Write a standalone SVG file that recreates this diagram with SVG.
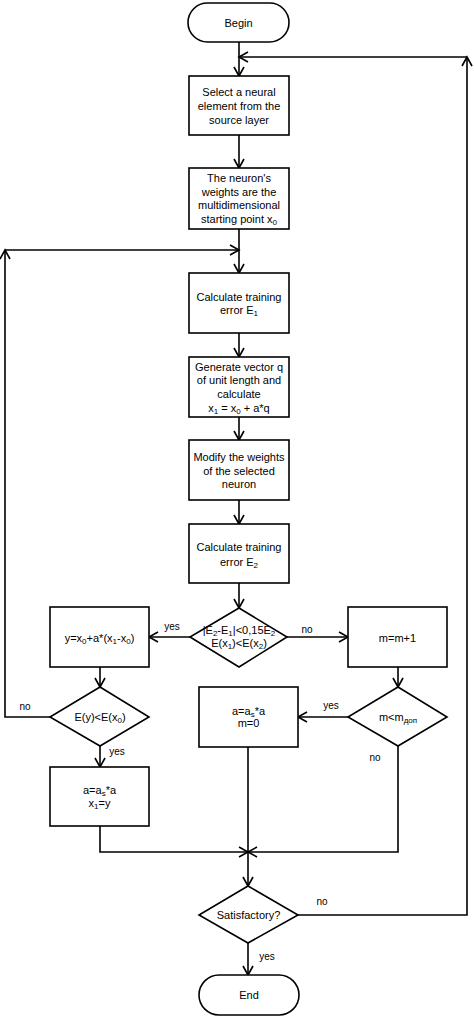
<svg xmlns="http://www.w3.org/2000/svg" width="474" height="1017" viewBox="0 0 474 1017">
<style>
.n{fill:#fff;stroke:#000;stroke-width:1.6}
.t{font-family:"Liberation Sans",Arial,sans-serif;font-size:11px;fill:#000;text-anchor:middle}
.l{font-family:"Liberation Sans",Arial,sans-serif;font-size:10px;fill:#000;text-anchor:middle}
.c{fill:none;stroke:#000;stroke-width:1.6}
.s{font-size:8px}
</style>
<defs>
<marker id="a" markerUnits="userSpaceOnUse" markerWidth="14" markerHeight="14" viewBox="-12 -7 14 14" refX="0" refY="0" orient="auto">
<path d="M-9,-5 L0,0 L-9,5" fill="none" stroke="#000" stroke-width="1.6"/>
</marker>
</defs>
<rect width="474" height="1017" fill="#fff"/>
<g id="connectors">
<path class="c" d="M239,42 V76" marker-end="url(#a)"/>
<path class="c" d="M467,57 H239" marker-end="url(#a)"/>
<path class="c" d="M239,135 V168" marker-end="url(#a)"/>
<path class="c" d="M239,229 V273" marker-end="url(#a)"/>
<path class="c" d="M5,250 H239" marker-end="url(#a)"/>
<path class="c" d="M239,333 V357" marker-end="url(#a)"/>
<path class="c" d="M239,417 V440" marker-end="url(#a)"/>
<path class="c" d="M239,500 V524" marker-end="url(#a)"/>
<path class="c" d="M239,583 V608" marker-end="url(#a)"/>
<path class="c" d="M190,637 H149" marker-end="url(#a)"/>
<path class="c" d="M287,637 H348" marker-end="url(#a)"/>
<path class="c" d="M100,667 V687" marker-end="url(#a)"/>
<path class="c" d="M398,667 V687" marker-end="url(#a)"/>
<path class="c" d="M50,717 H5 V250" marker-end="url(#a)"/>
<path class="c" d="M100,746 V767" marker-end="url(#a)"/>
<path class="c" d="M348,717 H298" marker-end="url(#a)"/>
<path class="c" d="M100,826 V852 H248" marker-end="url(#a)"/>
<path class="c" d="M398,746 V852 H248" marker-end="url(#a)"/>
<path class="c" d="M248,747 V886" marker-end="url(#a)"/>
<path class="c" d="M248,943 V975" marker-end="url(#a)"/>
<path class="c" d="M298,915 H467 V57" marker-end="url(#a)"/>
<text class="l" x="172" y="630">yes</text>
<text class="l" x="307" y="633">no</text>
<text class="l" x="25" y="710">no</text>
<text class="l" x="117" y="755">yes</text>
<text class="l" x="331" y="709">yes</text>
<text class="l" x="375" y="761">no</text>
<text class="l" x="322" y="905">no</text>
<text class="l" x="267" y="960">yes</text>
</g>
<g id="begin">
<rect class="n" x="188" y="3" width="101" height="39" rx="19.5"/>
<text class="t" x="238.5" y="27">Begin</text>
</g>
<g id="select">
<rect class="n" x="189" y="76" width="100" height="59"/>
<text class="t" x="239" y="96">Select a neural</text>
<text class="t" x="239" y="110">element from the</text>
<text class="t" x="239" y="124">source layer</text>
</g>
<g id="weights">
<rect class="n" x="189" y="168" width="100" height="61"/>
<text class="t" x="239" y="182">The neuron's</text>
<text class="t" x="239" y="196">weights are the</text>
<text class="t" x="239" y="209">multidimensional</text>
<text class="t" x="239" y="223">starting point x<tspan class="s" dy="2">0</tspan></text>
</g>
<g id="calcE1">
<rect class="n" x="189" y="273" width="100" height="60"/>
<text class="t" x="239" y="301">Calculate training</text>
<text class="t" x="239" y="314">error E<tspan class="s" dy="2">1</tspan></text>
</g>
<g id="generate">
<rect class="n" x="189" y="357" width="100" height="60"/>
<text class="t" x="239" y="371">Generate vector q</text>
<text class="t" x="239" y="384">of unit length and</text>
<text class="t" x="239" y="398">calculate</text>
<text class="t" x="239" y="412">x<tspan class="s" dy="2">1</tspan><tspan dy="-2"> = x</tspan><tspan class="s" dy="2">0</tspan><tspan dy="-2"> + a*q</tspan></text>
</g>
<g id="modify">
<rect class="n" x="189" y="440" width="100" height="60"/>
<text class="t" x="239" y="461">Modify the weights</text>
<text class="t" x="239" y="475">of the selected</text>
<text class="t" x="239" y="488">neuron</text>
</g>
<g id="calcE2">
<rect class="n" x="189" y="524" width="100" height="59"/>
<text class="t" x="239" y="551">Calculate training</text>
<text class="t" x="239" y="566">error E<tspan class="s" dy="2">2</tspan></text>
</g>
<g id="cond1">
<polygon class="n" points="239,608 287,637 239,667 190,637"/>
<text class="t" x="239" y="634">|E<tspan class="s" dy="2">2</tspan><tspan dy="-2">-E</tspan><tspan class="s" dy="2">1</tspan><tspan dy="-2">|&lt;0,15E</tspan><tspan class="s" dy="2">2</tspan></text>
<text class="t" x="239" y="647">E(x<tspan class="s" dy="2">1</tspan><tspan dy="-2">)&lt;E(x</tspan><tspan class="s" dy="2">2</tspan><tspan dy="-2">)</tspan></text>
</g>
<g id="ybox">
<rect class="n" x="50" y="607" width="99" height="60"/>
<text class="t" x="99.5" y="642">y=x<tspan class="s" dy="2">0</tspan><tspan dy="-2">+a*(x</tspan><tspan class="s" dy="2">1</tspan><tspan dy="-2">-x</tspan><tspan class="s" dy="2">0</tspan><tspan dy="-2">)</tspan></text>
</g>
<g id="minc">
<rect class="n" x="348" y="607" width="99" height="60"/>
<text class="t" x="397.5" y="642">m=m+1</text>
</g>
<g id="condEy">
<polygon class="n" points="100,687 149,717 100,746 50,717"/>
<text class="t" x="100" y="721">E(y)&lt;E(x<tspan class="s" dy="2">0</tspan><tspan dy="-2">)</tspan></text>
</g>
<g id="reset">
<rect class="n" x="199" y="687" width="99" height="60"/>
<text class="t" x="248.5" y="715">a=a<tspan class="s" dy="2">s</tspan><tspan dy="-2">*a</tspan></text>
<text class="t" x="248.5" y="727">m=0</text>
</g>
<g id="condM">
<polygon class="n" points="398,687 447,717 398,746 348,717"/>
<text class="t" x="398" y="721">m&lt;m<tspan class="s" dy="2">доп</tspan></text>
</g>
<g id="update">
<rect class="n" x="50" y="767" width="99" height="59"/>
<text class="t" x="99.5" y="794">a=a<tspan class="s" dy="2">s</tspan><tspan dy="-2">*a</tspan></text>
<text class="t" x="99.5" y="807">x<tspan class="s" dy="2">1</tspan><tspan dy="-2">=y</tspan></text>
</g>
<g id="satisfactory">
<polygon class="n" points="248,886 298,915 248,943 199,915"/>
<text class="t" x="248.5" y="919">Satisfactory?</text>
</g>
<g id="end">
<rect class="n" x="199" y="975" width="100" height="40" rx="20"/>
<text class="t" x="249" y="999">End</text>
</g>
</svg>
